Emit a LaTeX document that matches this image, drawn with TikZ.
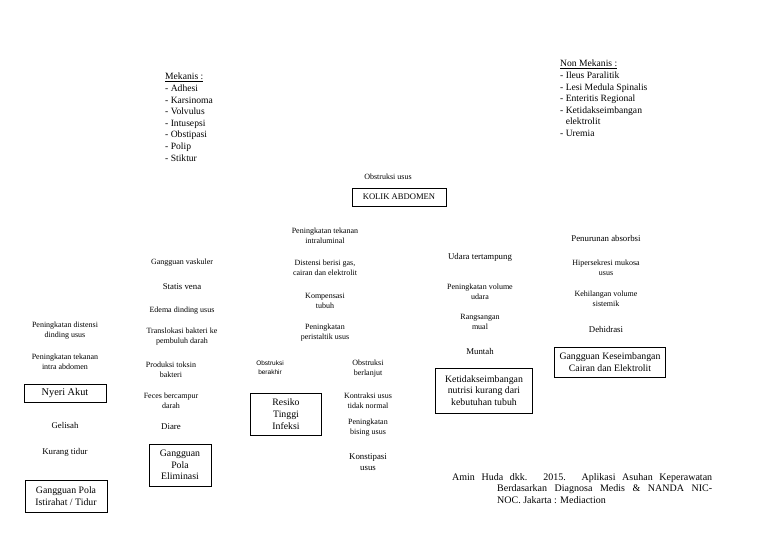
\documentclass[tikz,border=0pt]{standalone}
\usepackage{fontspec}
\setmainfont{Liberation Serif}
\newfontfamily\sansf{Liberation Sans}
\tikzset{
  tinytxt/.style={font=\fontsize{8}{10}\selectfont, align=center, inner sep=0pt},
  sanstxt/.style={font=\sansf\fontsize{6.5}{9}\selectfont, align=center, inner sep=0pt},
  midtxt/.style={font=\fontsize{8.8}{11}\selectfont, align=center, inner sep=0pt},
  boxed/.style={draw, line width=0.8pt, font=\fontsize{9.8}{11.7}\selectfont, align=center, inner sep=0pt},
  listtxt/.style={font=\fontsize{9.6}{11.6}\selectfont, align=left, inner sep=0pt, anchor=north west},
}
\begin{document}
\begin{tikzpicture}[x=1pt,y=-1pt]
\useasboundingbox[fill=white] (0,0) rectangle (768,543);

% lists
\node[listtxt] (mek) at (165,73) {\underline{Mekanis :}\\- Adhesi\\- Karsinoma\\- Volvulus\\- Intusepsi\\- Obstipasi\\- Polip\\- Stiktur};
\node[listtxt] (nonmek) at (560,60) {\underline{Non Mekanis :}\\- Ileus Paralitik\\- Lesi Medula Spinalis\\- Enteritis Regional\\- Ketidakseimbangan\\\phantom{- }elektrolit\\- Uremia};

% center
\node[tinytxt] (obs) at (388,177) {Obstruksi usus};
\node[boxed, font=\fontsize{8.6}{10}\selectfont, minimum width=94pt, minimum height=18pt] (kolik) at (399,197) {KOLIK ABDOMEN};

\node[tinytxt] (intra) at (325,236) {Peningkatan tekanan\\intraluminal};
\node[tinytxt] (dist) at (325,268) {Distensi berisi gas,\\cairan dan elektrolit};
\node[tinytxt] (komp) at (325,301) {Kompensasi\\tubuh};
\node[tinytxt] (peri) at (325,333) {Peningkatan\\peristaltik usus};

% left-middle column
\node[tinytxt] (vask) at (182,263) {Gangguan vaskuler};
\node[midtxt] (statis) at (182,287) {Statis vena};
\node[tinytxt] (edema) at (182,311) {Edema dinding usus};
\node[tinytxt] (trans) at (182,337) {Translokasi bakteri ke\\pembuluh darah};
\node[tinytxt] (toksin) at (171,370) {Produksi toksin\\bakteri};
\node[tinytxt] (feces) at (171,401) {Feces bercampur\\darah};
\node[midtxt] (diare) at (171,427) {Diare};
\node[boxed, minimum width=62pt, minimum height=42pt] (elim) at (180,465) {Gangguan\\Pola\\Eliminasi};

% far-left column
\node[tinytxt] (pdist) at (65,331) {Peningkatan distensi\\dinding usus};
\node[tinytxt] (ptek) at (65,362) {Peningkatan tekanan\\intra abdomen};
\node[boxed, font=\fontsize{10.3}{12}\selectfont, minimum width=82pt, minimum height=18pt] (nyeri) at (65,393) {Nyeri Akut};
\node[midtxt] (gelisah) at (65,425) {Gelisah};
\node[midtxt] (kurang) at (65,452) {Kurang tidur};
\node[boxed, minimum width=82pt, minimum height=32pt] (istirahat) at (66,496) {Gangguan Pola\\Istirahat / Tidur};

% center-bottom
\node[sanstxt] (berakhir) at (270,368) {Obstruksi\\berakhir};
\node[tinytxt] (lanjut) at (368,369) {Obstruksi\\berlanjut};
\node[boxed, minimum width=71pt, minimum height=42pt] (infeksi) at (286,414) {Resiko\\Tinggi\\Infeksi};
\node[tinytxt] (kontraksi) at (368,401) {Kontraksi usus\\tidak normal};
\node[tinytxt] (bising) at (368,428) {Peningkatan\\bising usus};
\node[midtxt] (konst) at (368,462) {Konstipasi\\usus};

% right-middle column
\node[midtxt] (udara) at (480,257) {Udara tertampung};
\node[tinytxt] (vudara) at (480,292) {Peningkatan volume\\udara};
\node[tinytxt] (mual) at (480,322) {Rangsangan\\mual};
\node[midtxt] (muntah) at (480,351) {Muntah};
\node[boxed, minimum width=97pt, minimum height=45pt] (nutrisi) at (484,390.5) {Ketidakseimbangan\\nutrisi kurang dari\\kebutuhan tubuh};

% far-right column
\node[midtxt] (absorbsi) at (606,238) {Penurunan absorbsi};
\node[tinytxt] (hiper) at (606,268) {Hipersekresi mukosa\\usus};
\node[tinytxt] (kehil) at (606,299) {Kehilangan volume\\sistemik};
\node[midtxt] (dehid) at (606,329) {Dehidrasi};
\node[boxed, minimum width=111pt, minimum height=30pt] (cairan) at (610,362) {Gangguan Keseimbangan\\Cairan dan Elektrolit};

% citation
\node[inner sep=0pt, anchor=north west, font=\fontsize{10}{11.5}\selectfont] (cite) at (452,473)
 {\parbox[t]{260pt}{\hangindent=45pt\hangafter=1 Amin Huda dkk. 2015. Aplikasi Asuhan Keperawatan\linebreak Berdasarkan Diagnosa Medis \& NANDA NIC-\linebreak NOC. Jakarta : Mediaction}};
\end{tikzpicture}
\end{document}
